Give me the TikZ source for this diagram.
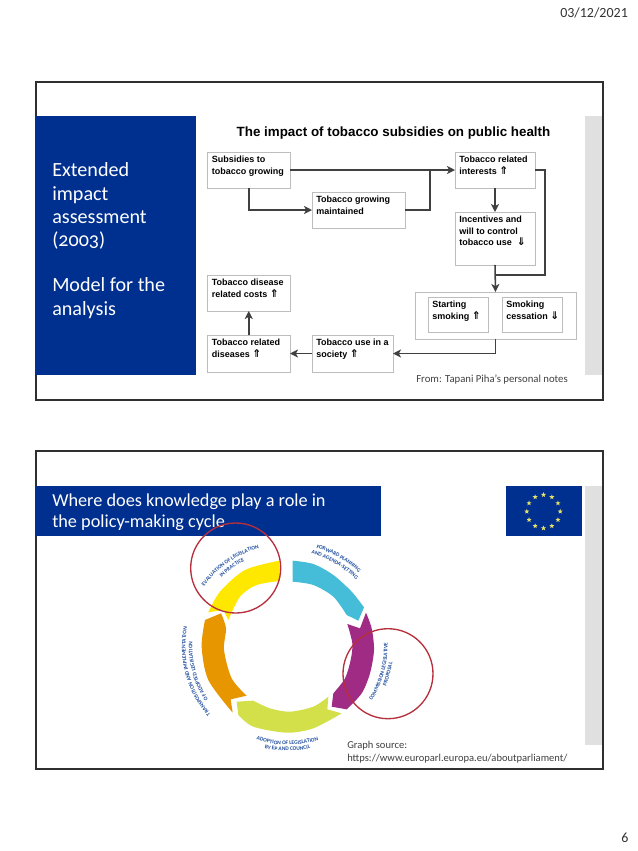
\documentclass[tikz,border=0pt]{standalone}
\usepackage{fontspec}
\usetikzlibrary{arrows.meta,decorations.text,shapes.geometric}
\setmainfont{Carlito}
\newfontfamily\heads{Liberation Sans}
\newfontfamily\symf{DejaVu Sans}
\newfontfamily\oldnum[Numbers=OldStyle]{Carlito}
\newdimen\px \px=.75pt
\definecolor{eublue}{HTML}{00308F}
\definecolor{bargrey}{HTML}{E0E0E0}
\definecolor{linegrey}{HTML}{404040}
\definecolor{boxgrey}{HTML}{BDBDBD}
\definecolor{framec}{HTML}{2F2F2F}
\definecolor{ringred}{HTML}{B72F3C}
\definecolor{lblblue}{HTML}{1F4E9E}
\definecolor{segblue}{HTML}{45BCD8}
\definecolor{segpurple}{HTML}{A02B85}
\definecolor{seggreen}{HTML}{D4E04A}
\definecolor{segorange}{HTML}{E89600}
\definecolor{segyellow}{HTML}{FFE800}
\newcommand{\up}{{\symf\fontsize{8}{8}\selectfont ⇑}}
\newcommand{\dn}{{\symf\fontsize{8}{8}\selectfont ⇓}}
\newcommand{\lblfont}{\fontsize{4.1}{4.5}\bfseries\selectfont\color{lblblue}}
% name, x, y, w, h, text
\newcommand{\flowbox}[6]{\node[flowb] (#1) at (#2,#3) {\parbox[c][#5\px][t]{#4\px}{\vspace*{3.2pt}\leftskip=3.2pt\rightskip=0pt plus 1fil\heads\bfseries\fontsize{6.75}{8.5}\selectfont #6}};}
% angle from, angle to, radius, text
\newcommand{\arclbl}[4]{\path[decorate,decoration={text along path,text align=center,text={|\lblfont|#4}}] ({287.5+#3*cos(#1)},{647+#3*sin(#1)}) arc[start angle=#1,end angle=#2,radius=#3];}
\tikzset{
  flowb/.style={draw=boxgrey,line width=.75pt,fill=white,anchor=north west,inner sep=0pt,outer sep=0pt},
  conn/.style={draw=linegrey,line width=1.15pt,-{Stealth[length=6pt,width=6pt,inset=1.6pt]}},
  plainconn/.style={draw=linegrey,line width=1.15pt},
  framebox/.style={draw=framec,line width=1.1pt},
  sidetext/.style={text=white,anchor=base west,inner sep=0pt,font=\fontsize{15.1}{18}\selectfont},
  notetext/.style={text=linegrey,anchor=base west,inner sep=0pt,font=\fontsize{8.05}{10}\selectfont},
  pagetext/.style={text=black!80,anchor=base west,inner sep=0pt,font=\fontsize{10.5}{12}\selectfont},
  redring/.style={draw=ringred,line width=1pt},
  stardot/.style={star,star points=5,star point ratio=2.4,fill=yellow!60!white!90!black,inner sep=0pt,minimum size=4pt}
}
\begin{document}
\begin{tikzpicture}[x=.75pt,y=-.75pt]
\useasboundingbox (0,0) rectangle (638,851);
\fill[white] (0,0) rectangle (638,851);
\node[pagetext] (date) at (560,17) {03/12/2021};
\node[pagetext] (pagenum) at (621,842) {6};
% slide 1
\draw[framebox] (36,82) rectangle (603,400);
\fill[eublue] (36,116) rectangle (196,375);
\fill[bargrey] (585,116) rectangle (602,375);
\node[sidetext] (s1a) at (52,176.7) {Extended};
\node[sidetext] (s1b) at (52,200) {impact};
\node[sidetext] (s1c) at (52,223) {assessment};
\node[sidetext] (s1d) at (52,246.7) {\oldnum (2003)};
\node[sidetext] (s1e) at (52,291.7) {Model for the};
\node[sidetext] (s1f) at (52,315) {analysis};
\node[anchor=base,inner sep=0pt,font=\heads\bfseries\fontsize{10.03}{12}\selectfont] (title) at (393.5,136) {The impact of tobacco subsidies on public health};
\flowbox{sub}{207.5}{152}{82.5}{36}{Subsidies to\\tobacco growing}
\flowbox{main}{312}{192}{93}{36}{Tobacco growing\\maintained}
\flowbox{rel}{455}{152}{80}{36}{Tobacco related\\interests \up}
\flowbox{inc}{455}{212}{80}{53}{Incentives and\\will to control\\tobacco use \ \dn}
\flowbox{cost}{207.5}{275}{82.5}{36}{Tobacco disease\\related costs \up}
\flowbox{dis}{207.5}{335}{82.5}{37}{Tobacco related\\diseases \up}
\flowbox{use}{312}{335}{81}{37}{Tobacco use in a\\society \up}
\node[flowb,minimum width=161\px,minimum height=47\px] (big) at (415,292) {};
\flowbox{start}{428}{297}{60}{35}{Starting\\smoking \up}
\flowbox{cess}{502}{297}{60}{35}{Smoking\\cessation \dn}
\coordinate (j1) at (430,170);
\coordinate (j2) at (495.5,275);
\draw[conn] (sub.east) -- (rel.west);
\draw[conn] (sub.south) |- (main.west);
\draw[plainconn] (main.east) -| (j1);
\draw[conn] (rel.south) -- (inc.north);
\draw[conn] (inc.south) -- (big.north);
\draw[plainconn] (rel.east) -- ++(10,0) |- (j2);
\draw[conn] (big.south) |- (use.east);
\draw[conn] (use.west) -- (dis.east);
\draw[conn] (dis.north) -- (cost.south);
\node[notetext] (from) at (416,382.5) {From: Tapani Piha’s personal notes};
% slide 2
\draw[framebox] (36,451) rectangle (603,769);
\fill[eublue] (36,486) rectangle (381,536);
\fill[bargrey] (585,486) rectangle (602,745);
\fill[eublue] (506,486) rectangle (582,536);
\foreach \a in {0,30,...,330}{\node[stardot] (st\a) at ({543.5+16.7*cos(\a)},{511.5+16.7*sin(\a)}) {};}
\node[sidetext,font=\fontsize{13.7}{15}\selectfont] (s2a) at (52,506) {Where does knowledge play a role in};
\node[sidetext,font=\fontsize{13.7}{15}\selectfont] (s2b) at (52,527) {the policy-making cycle};
% ring segments, traced in 3x crop coordinates
\begin{scope}[shift={(190,550)},x=.25pt,y=-.25pt]
\fill[segblue] (308,32) -- plot[smooth] coordinates {(308,32) (370,42) (430,75) (485,125) (522,172)} -- (505,212) -- plot[smooth] coordinates {(470,195) (430,140) (370,105) (308,95)} -- cycle;
\fill[segpurple] (472,222) -- (510,235) -- plot[smooth] coordinates {(528,188) (545,235) (552,300) (540,370) (515,430) (470,478)} -- (425,470) -- plot[smooth] coordinates {(430,430) (465,385) (482,330) (487,280) (472,222)} -- cycle;
\fill[seggreen] (140,455) -- plot[smooth] coordinates {(145,495) (190,530) (290,548) (370,535) (455,490)} -- (412,478) -- plot[smooth] coordinates {(415,440) (370,470) (300,485) (240,475) (190,452)} -- cycle;
\fill[segorange] (93,190) -- plot[smooth] coordinates {(45,210) (35,290) (55,390) (128,488)} -- (122,448) -- plot[smooth] coordinates {(170,437) (125,385) (102,300) (108,235) (93,190)} -- cycle;
\fill[segyellow] (268,32) -- plot[smooth] coordinates {(270,93) (200,105) (150,140) (115,210)} -- (100,180) -- plot[smooth] coordinates {(55,187) (90,125) (165,60) (268,32)} -- cycle;
\end{scope}
% ring labels
\arclbl{195}{275}{103}{EVALUATION OF LEGISLATION}
\arclbl{195}{275}{96}{IN PRACTICE}
\arclbl{-100}{-20}{103}{FORWARD PLANNING}
\arclbl{-100}{-20}{96}{AND AGENDA-SETTING}
\arclbl{55}{-25}{100}{COMMISSION LEGISLATIVE}
\arclbl{55}{-25}{106}{PROPOSAL}
\arclbl{130}{50}{98}{ADOPTION OF LEGISLATION}
\arclbl{130}{50}{104}{BY EP AND COUNCIL}
\arclbl{125}{205}{102}{TRANSPOSITION AND IMPLEMENTATION}
\arclbl{125}{205}{95}{OF ADOPTED LEGISLATION}
\draw[redring] (235.7,568) circle[radius=45];
\draw[redring] (388,673.7) circle[radius=45];
\node[notetext,font=\fontsize{7.9}{10}\selectfont] (gs1) at (347,748) {Graph source:};
\node[notetext,font=\fontsize{7.9}{10}\selectfont] (gs2) at (347,761) {https://www.europarl.europa.eu/aboutparliament/};
\end{tikzpicture}
\end{document}
